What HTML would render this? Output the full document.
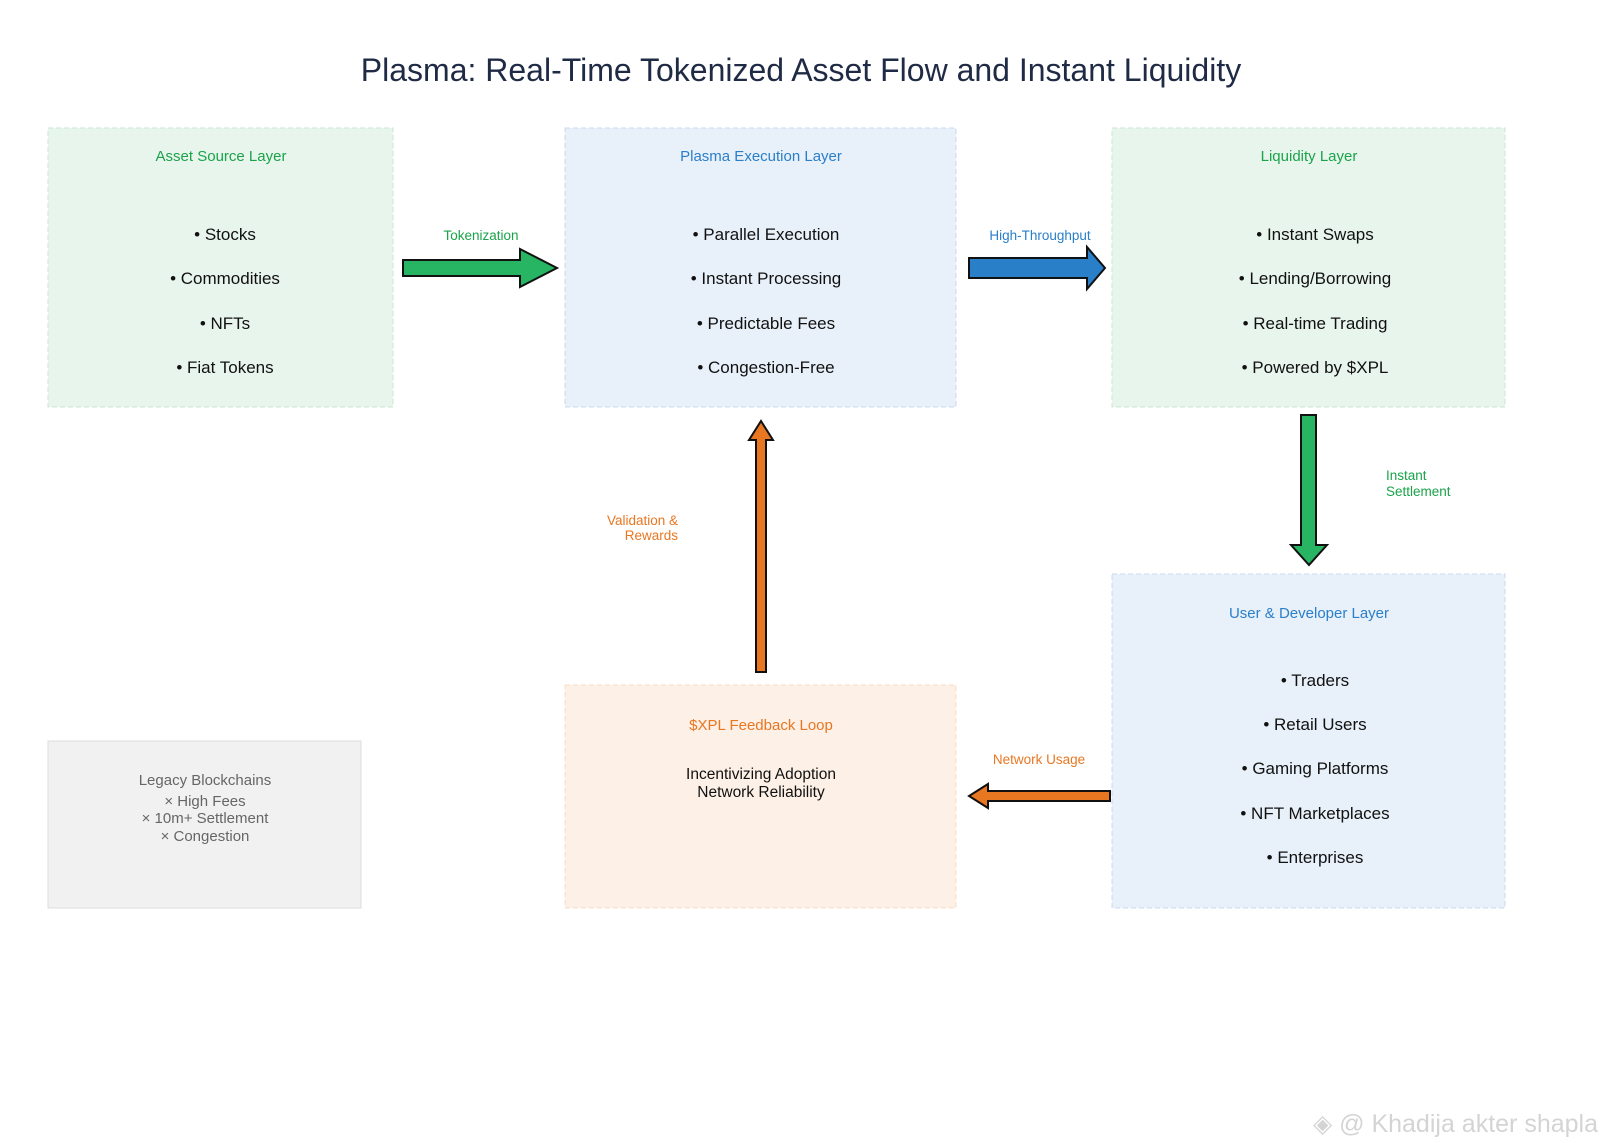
<!DOCTYPE html>
<html><head><meta charset="utf-8"><style>
html,body{margin:0;padding:0;background:#fff;}
svg{display:block;font-family:"Liberation Sans",sans-serif;}
</style></head><body>
<svg width="1600" height="1143" viewBox="0 0 1600 1143" xmlns="http://www.w3.org/2000/svg">
<rect width="1600" height="1143" fill="#fff"/>
<text x="801" y="81" font-size="32" fill="#1f2a44" text-anchor="middle">Plasma: Real-Time Tokenized Asset Flow and Instant Liquidity</text>

<rect x="48" y="128" width="345" height="279" fill="#e8f5ec" stroke="#c8e6d0" stroke-dasharray="5,3"/>
<rect x="565" y="128" width="391" height="279" fill="#e8f0f9" stroke="#c8d8f0" stroke-dasharray="5,3"/>
<rect x="1112" y="128" width="393" height="279" fill="#e8f5ec" stroke="#c8e6d0" stroke-dasharray="5,3"/>
<rect x="1112" y="574" width="393" height="334" fill="#e8f0f9" stroke="#c8d8f0" stroke-dasharray="5,3"/>
<rect x="565" y="685" width="391" height="223" fill="#fdf0e6" stroke="#f7dcc8" stroke-dasharray="5,3"/>
<rect x="48" y="741" width="313" height="167" fill="#f1f1f1" stroke="#dddddd"/>

<g font-size="15" text-anchor="middle">
<text x="221" y="161" fill="#1aa34a">Asset Source Layer</text>
<text x="761" y="161" fill="#2a7fc9">Plasma Execution Layer</text>
<text x="1309" y="161" fill="#1aa34a">Liquidity Layer</text>
<text x="1309" y="618" fill="#2a7fc9">User &amp; Developer Layer</text>
<text x="761" y="730" fill="#e87722">$XPL Feedback Loop</text>
</g>

<g font-size="17" text-anchor="middle" fill="#111">
<text x="225" y="240">• Stocks</text>
<text x="225" y="284">• Commodities</text>
<text x="225" y="329">• NFTs</text>
<text x="225" y="373">• Fiat Tokens</text>
<text x="766" y="240">• Parallel Execution</text>
<text x="766" y="284">• Instant Processing</text>
<text x="766" y="329">• Predictable Fees</text>
<text x="766" y="373">• Congestion-Free</text>
<text x="1315" y="240">• Instant Swaps</text>
<text x="1315" y="284">• Lending/Borrowing</text>
<text x="1315" y="329">• Real-time Trading</text>
<text x="1315" y="373">• Powered by $XPL</text>
<text x="1315" y="686">• Traders</text>
<text x="1315" y="730">• Retail Users</text>
<text x="1315" y="774">• Gaming Platforms</text>
<text x="1315" y="819">• NFT Marketplaces</text>
<text x="1315" y="863">• Enterprises</text>
</g>
<g font-size="15.5" text-anchor="middle" fill="#111">
<text x="761" y="779">Incentivizing Adoption</text>
<text x="761" y="797">Network Reliability</text>
</g>
<g font-size="15" text-anchor="middle" fill="#666">
<text x="205" y="785">Legacy Blockchains</text>
<text x="205" y="806">× High Fees</text>
<text x="205" y="823">× 10m+ Settlement</text>
<text x="205" y="841">× Congestion</text>
</g>

<polygon points="403,260 520,260 520,249 557,268 520,287 520,276 403,276" fill="#27b463" stroke="#111" stroke-width="2"/>
<polygon points="969,258 1087,258 1087,247 1105,268 1087,289 1087,278 969,278" fill="#2a7fc9" stroke="#111" stroke-width="2"/>
<polygon points="1301,415 1316,415 1316,545 1327,545 1309,565 1291,545 1301,545" fill="#27b463" stroke="#111" stroke-width="2"/>
<polygon points="756,672 766,672 766,440 773,440 761,421 749,440 756,440" fill="#e87722" stroke="#111" stroke-width="2"/>
<polygon points="1110,791 1110,801 988,801 988,808 969,796 988,784 988,791" fill="#e87722" stroke="#111" stroke-width="2"/>

<g font-size="13.5">
<text x="481" y="240" fill="#1aa34a" text-anchor="middle">Tokenization</text>
<text x="1040" y="240" fill="#2a7fc9" text-anchor="middle">High-Throughput</text>
<text x="1386" y="480" fill="#1aa34a">Instant</text>
<text x="1386" y="496" fill="#1aa34a">Settlement</text>
<text x="678" y="525" fill="#e87722" text-anchor="end">Validation &amp;</text>
<text x="678" y="540" fill="#e87722" text-anchor="end">Rewards</text>
<text x="1039" y="764" fill="#e87722" text-anchor="middle">Network Usage</text>
</g>

<text x="1598" y="1132" font-size="25" fill="#d4d4d4" text-anchor="end">◈ @ Khadija akter shapla</text>
</svg>
</body></html>
